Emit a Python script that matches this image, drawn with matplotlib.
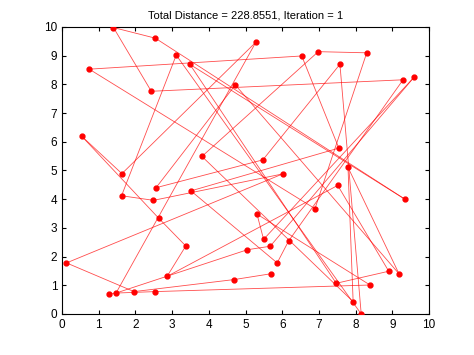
import matplotlib
matplotlib.use("Agg")
import matplotlib.pyplot as plt

plt.rcParams["font.family"] = ["Liberation Sans", "DejaVu Sans"]

# city coordinates, one label per city
city_labels = list("ABCDEFGHIJKLMNOPQRSTUVWXYZabcdefghijklmnopqrstuvwx")
city_x = [1.40, 2.54, 3.11, 3.48, 0.74, 2.43, 4.72, 0.53, 3.81, 1.63,
          5.28, 6.53, 6.98, 8.30, 7.57, 9.29, 9.59, 7.54, 5.47, 6.01,
          7.79, 2.56, 1.62, 3.51, 2.49, 2.63, 3.37, 0.12, 2.86, 4.69,
          5.05, 1.29, 1.47, 1.96, 2.53, 7.51, 9.34, 5.31, 6.89, 5.49,
          6.17, 5.67, 5.86, 8.90, 9.18, 5.68, 7.47, 8.39, 7.93, 8.15]
city_y = [9.98, 9.61, 9.02, 8.70, 8.53, 7.76, 7.98, 6.20, 5.49, 4.89,
          9.47, 8.99, 9.14, 9.10, 8.70, 8.16, 8.25, 5.78, 5.37, 4.88,
          5.11, 4.40, 4.12, 4.29, 3.96, 3.34, 2.37, 1.78, 1.31, 1.20,
          2.24, 0.69, 0.73, 0.78, 0.78, 4.48, 4.00, 3.48, 3.67, 2.60,
          2.54, 2.36, 1.78, 1.49, 1.40, 1.40, 1.07, 1.01, 0.43, 0.00]

# route legs (pairs of city labels)
legs = [
    "AB", "AF", "FP", "Bk", "Dk", "EL", "Em", "LR", "MN", "MI", "Nm", "OS",
    "Ox", "HZ", "Za", "HJ", "JK", "Kg", "WC", "WY", "YT", "VS", "VG", "ac",
    "bh", "fg", "ur", "Uw", "Us", "Iw", "Cx", "Du", "Gs", "iv", "vl", "dt",
    "Po", "Qp", "Qn", "XR", "Xq", "Tb", "cj", "jr", "hd", "gi", "ge", "nl",
    "oq", "pe",
]

pos = {c: (x, y) for c, x, y in zip(city_labels, city_x, city_y)}

fig = plt.figure(figsize=(4.74, 3.55), dpi=100)
ax = fig.add_axes([0.131, 0.1155, 0.7743, 0.8085])

for a, b in legs:
    ax.plot([pos[a][0], pos[b][0]], [pos[a][1], pos[b][1]],
            color="#ff0000", linewidth=0.6, alpha=0.7)

ax.plot(city_x, city_y, ".", color="#ff0000", markersize=7, zorder=3)

ax.set_xlim(0, 10)
ax.set_ylim(0, 10)
ax.set_xticks(range(0, 11))
ax.set_yticks(range(0, 11))
ax.tick_params(direction="in", top=True, right=True, labelsize=8.5, length=3)
ax.set_title("Total Distance = 228.8551, Iteration = 1", fontsize=8)

fig.savefig("out.png", dpi=100)
